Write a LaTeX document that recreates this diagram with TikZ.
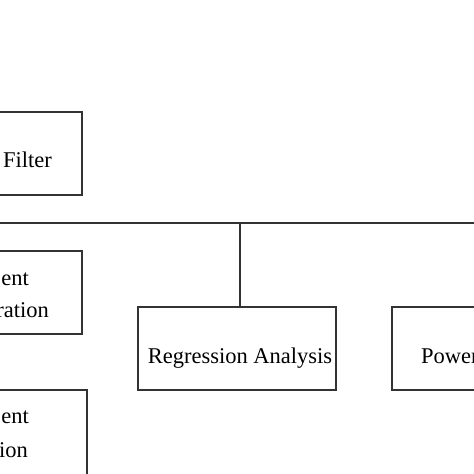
\documentclass[tikz,border=0pt]{standalone}
\usepackage{fontspec}
\setmainfont{Liberation Serif}
\begin{document}
\begin{tikzpicture}[x=1pt,y=-1pt,
  box/.style={draw=black!80,line width=1.4pt,rectangle,inner sep=0pt},
  lbl/.style={inner sep=0pt,font=\fontsize{22.5}{27}\selectfont},
  wire/.style={draw=black!80,line width=1.4pt}]
\useasboundingbox (0,0) rectangle (474,474);
\clip (0,0) rectangle (474,474);
% boxes
\node[box,minimum width=162pt,minimum height=83pt] (filter) at (1,153.5) {};
\node[box,minimum width=162pt,minimum height=83pt] (calib) at (1,292.5) {};
\node[box,minimum width=167pt,minimum height=170pt] (third) at (3.5,475) {};
\node[box,minimum width=198pt,minimum height=83pt] (reg) at (237,348.5) {};
\node[box,minimum width=198pt,minimum height=83pt] (power) at (491,348.5) {};
% texts
\node[lbl,anchor=base west] (tfilter) at (3,167) {Filter};
\node[lbl,anchor=base east] (tcal1) at (29,285) {ent};
\node[lbl,anchor=base east] (tcal2) at (49,317) {ration};
\node[lbl,anchor=base east] (tthird1) at (29,423) {ent};
\node[lbl,anchor=base east] (tthird2) at (28,457) {ion};
\node[lbl,anchor=base] (treg) at (240,363) {Regression Analysis};
\node[lbl,anchor=base west] (tpower) at (421,363) {Power};
% connectors
\coordinate (busL) at (-10,223);
\coordinate (busR) at (484,223);
\coordinate (bus) at (240,223);
\draw[wire] (busL) -- (busR);
\draw[wire] (bus) -- (bus |- reg.north);
\end{tikzpicture}
\end{document}
